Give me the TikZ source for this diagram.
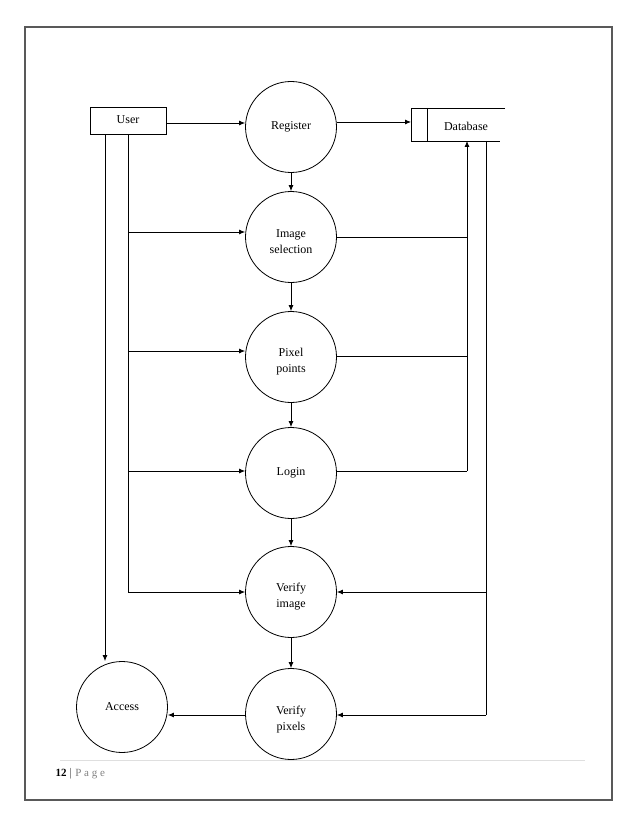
\documentclass[tikz,border=0pt]{standalone}
\usepackage{fontspec}
\setmainfont{Liberation Serif}
\usetikzlibrary{arrows.meta, positioning}
\tikzset{
    proc/.style={circle, draw=black, minimum size=91pt, inner sep=0pt, align=center, font=\fontsize{12}{16}\selectfont},
    ent/.style={rectangle, draw=black, minimum width=76pt, minimum height=27pt, inner sep=0pt, font=\fontsize{12}{14}\selectfont},
    line/.style={draw, -{Latex[length=6pt,width=5pt]}},
    connector/.style={draw}
}
\begin{document}
\begin{tikzpicture}[x=1pt, y=-1pt, line width=0.8pt]

    % Page frame
    \useasboundingbox (0,0) rectangle (638,826);
    \draw[gray!70!black, line width=2pt] (25,27) rectangle (612,800);
    \draw[gray!25, line width=0.6pt] (60,760) -- (585,760);
    \node[anchor=west, font=\fontsize{11}{13}\selectfont] (page) at (52,774) {\textbf{12} $|$ \textcolor{gray}{P a g e}};

    % Entities
    \node[ent] (user) at (128,121) {\raisebox{3pt}{User}};
    \draw (505,108) -- (411,108) -- (411,141) -- (500,141);
    \draw (427,108) -- (427,141);
    \node[font=\fontsize{12}{14}\selectfont] (db) at (466,126) {Database};

    % Processes
    \node[proc] (reg) at (291,127) {Register};
    \node[proc] (img) at (291,237) {\\[2pt]Image\\selection};
    \node[proc] (pix) at (291,357) {\\[2pt]Pixel\\points};
    \node[proc] (login) at (291,473) {Login};
    \node[proc] (vimg) at (291,592) {\\[2pt]Verify\\image};
    \node[proc] (vpix) at (291,714) {\\[4pt]Verify\\pixels};
    \node[proc] (acc) at (122,707) {Access};

    % Main flow
    \draw[line] (user.east |- 0,123) -- (reg.west |- 0,123);
    \draw[line] (reg.east |- 0,122) -- (411,122);
    \draw[line] (reg) -- (img);
    \draw[line] (img) -- (pix);
    \draw[line] (pix) -- (login);
    \draw[line] (login) -- (vimg);
    \draw[line] (vimg) -- (vpix);
    \draw[line] (vpix.west |- 0,715) -- (acc.east |- 0,715);

    % User side
    \draw[line] (105,135) -- (acc.north -| 105,0);
    \draw[connector] (128,135) -- (128,592);
    \foreach \n/\y in {img/232, pix/351, login/471, vimg/592}
        \draw[line] (128,\y) -- (\n.west |- 0,\y);

    % Database side
    \foreach \n/\y in {img/237, pix/356, login/471}
        \draw[connector] (\n.east |- 0,\y) -- (467,\y);
    \draw[line] (467,471) -- (467,141);
    \draw[connector] (486,141) -- (486,715);
    \draw[line] (486,592) -- (vimg.east |- 0,592);
    \draw[line] (486,715) -- (vpix.east |- 0,715);

\end{tikzpicture}
\end{document}
